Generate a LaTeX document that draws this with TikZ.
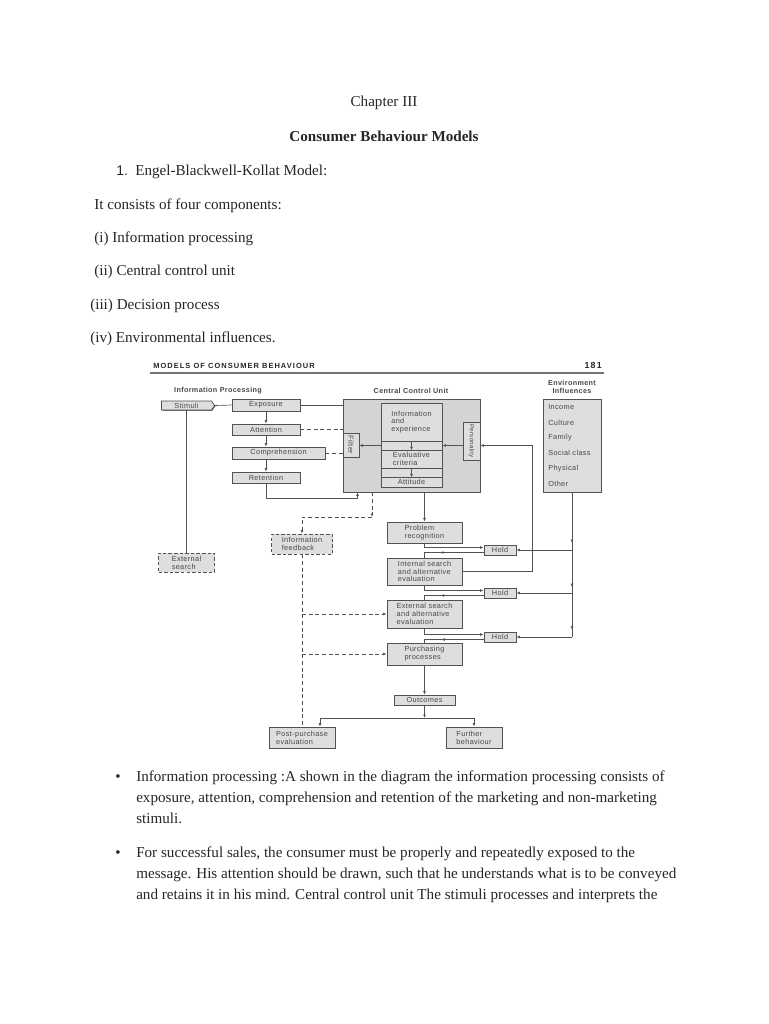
\documentclass[tikz,border=0pt]{standalone}
\usepackage{fontspec}
\setmainfont{Liberation Serif}
\newfontfamily\dsansfam[LetterSpace=5]{Liberation Sans}
\newfontfamily\hsansfam[LetterSpace=14]{Liberation Sans}
\newfontfamily\plainsans{Liberation Sans}
\usetikzlibrary{arrows.meta,shapes.symbols,decorations.markings,shadows}
\definecolor{lc}{gray}{0.32}
\definecolor{bf}{gray}{0.87}
\definecolor{cf}{gray}{0.83}
\definecolor{dt}{gray}{0.28}
\newcommand\diagfont{\dsansfam\fontsize{5.5}{5.9}\selectfont}
\newcommand\diagbold{\dsansfam\bfseries\fontsize{5.4}{5.9}\selectfont}
\newcommand\hdrfont{\hsansfam\bfseries\fontsize{5.6}{6}\selectfont}
\newcommand\bodyfont{\fontsize{11.35}{13}\selectfont}
\begin{document}
\begin{tikzpicture}[x=0.75pt,y=-0.75pt,
  >={Latex[length=2.6pt,width=2.1pt]},
  txt/.style={font=\bodyfont, inner sep=0pt, text=black!85},
  wh/.style 2 args={minimum width=#1*0.75pt, minimum height=#2*0.75pt},
  box/.style={draw=lc, fill=bf, line width=0.5pt, inner sep=0pt, font=\diagfont, text=dt,
    drop shadow={shadow xshift=0.6pt, shadow yshift=-0.6pt, fill=black!60, opacity=1}},
  flat/.style={draw=lc, fill=bf, line width=0.5pt, inner sep=0pt, font=\diagfont, text=dt},
  dbox/.style={draw=lc, fill=bf, line width=0.6pt, dash pattern=on 2.6pt off 1.6pt, inner sep=0pt, font=\diagfont, text=dt},
  ln/.style={draw=lc, line width=0.5pt},
  arr/.style={ln, ->},
  dsh/.style={ln, line width=0.55pt, dash pattern=on 3pt off 2pt},
  midarrow/.style={postaction={decorate}, decoration={markings, mark=at position #1 with {\arrow{>}}}},
  lbl/.style={font=\diagfont, inner sep=0pt, text=dt}
]
\useasboundingbox[fill=white] (0,0) rectangle (768,1024);

% ---------- page text ----------
\node[txt, anchor=base] (ch) at (384,107) {Chapter III};
\node[txt, anchor=base, font=\bodyfont\bfseries] (tt) at (384,141) {Consumer Behaviour Models};
\node[txt, anchor=base west, font=\plainsans\fontsize{10.5}{12}\selectfont] (n1) at (116,175) {1.};
\node[txt, anchor=base west] (l1) at (135,175) {Engel-Blackwell-Kollat Model:};
\node[txt, anchor=base west] (l2) at (94,209) {It consists of four components:};
\node[txt, anchor=base west] (l3) at (94,242) {(i) Information processing};
\node[txt, anchor=base west] (l4) at (94,275) {(ii) Central control unit};
\node[txt, anchor=base west] (l5) at (90,309) {(iii) Decision process};
\node[txt, anchor=base west] (l6) at (90,342) {(iv) Environmental influences.};

\node[txt, anchor=base west] (bu1) at (115,781) {•};
\node[txt, anchor=base west] (p1) at (136,781) {Information processing :A shown in the diagram the information processing consists of};
\node[txt, anchor=base west] (p2) at (136,802) {exposure, attention, comprehension and retention of the marketing and non-marketing};
\node[txt, anchor=base west] (p3) at (136,823) {stimuli.};
\node[txt, anchor=base west] (bu2) at (115,857) {•};
\node[txt, anchor=base west] (p4) at (136,857) {For successful sales, the consumer must be properly and repeatedly exposed to the};
\node[txt, anchor=base west] (p5) at (136,878) {message. His attention should be drawn, such that he understands what is to be conveyed};
\node[txt, anchor=base west] (p6) at (136,899) {and retains it in his mind. Central control unit The stimuli processes and interprets the};

% ---------- diagram header ----------
\node[font=\hdrfont, anchor=base west, inner sep=0pt, text=black!85] (mh) at (153,368.5) {MODELS OF CONSUMER BEHAVIOUR};
\node[font=\hdrfont\fontsize{6.6}{7}\selectfont, anchor=base east, inner sep=0pt, text=black!85] (pg) at (602,368.5) {181};
\draw[draw=black!55, line width=0.9pt] (150,373) -- (604,373);

\node[font=\diagbold, inner sep=0pt, text=dt] (hip) at (218,391) {Information Processing};
\node[font=\diagbold, inner sep=0pt, text=dt] (hcc) at (411,391) {Central Control Unit};
\node[font=\diagbold, inner sep=0pt, align=center, text=dt] (hen) at (572,387) {Environment\\Influences};

% ---------- information processing ----------
\node[box, shape=signal, signal to=east, signal pointer angle=110, wh={53}{9}] (stim) at (186.5,405.5) {Stimuli};
\node[box, wh={68}{12}] (expo) at (266,405) {Exposure};
\node[box, wh={68}{11}] (attn) at (266,429.5) {Attention};
\node[box, wh={93}{12}] (comp) at (278.5,453) {Comprehension};
\node[box, wh={68}{11}] (ret) at (266,477.5) {Retention};
\node[dbox, wh={56}{19}, align=left] (exs) at (186.5,562.5) {External\\search};

% ---------- central control unit ----------
\node[box, fill=cf, wh={137}{93}] (ccu) at (411.5,445.5) {};
\node[flat, wh={61}{38}, align=left] (info) at (411.5,422) {Information\\and\\experience};
\node[flat, wh={61}{9}] (g1) at (411.5,445.5) {};
\node[flat, wh={61}{18}, align=left] (eval) at (411.5,459) {Evaluative\\criteria};
\node[flat, wh={61}{9}] (g2) at (411.5,472.5) {};
\node[flat, wh={61}{10}] (attd) at (411.5,482) {Attitude};
\node[box, wh={16}{24}] (filt) at (351,445) {};
\node[lbl, rotate=-90] (filtt) at (filt) {Filter};
\node[box, wh={17}{38}] (pers) at (471.5,441) {};
\node[lbl, rotate=-90, font=\dsansfam\fontsize{4.6}{5}\selectfont] (perst) at (pers) {Personality};

% ---------- environment ----------
\node[box, wh={58}{93}] (env) at (572,445.5) {};
\node[lbl, anchor=west] (e1) at (548,407) {Income};
\node[lbl, anchor=west] (e2) at (548,423) {Culture};
\node[lbl, anchor=west] (e3) at (548,437.5) {Family};
\node[lbl, anchor=west] (e4) at (548,453) {Social class};
\node[lbl, anchor=west] (e5) at (548,469) {Physical};
\node[lbl, anchor=west] (e6) at (548,484) {Other};

% ---------- decision process ----------
\node[box, wh={75}{21}, align=left] (prob) at (424.5,532.5) {Problem\\recognition};
\node[box, wh={75}{27}, align=left] (intl) at (424.5,571.5) {Internal search\\and alternative\\evaluation};
\node[box, wh={75}{28}, align=left] (extl) at (424.5,614) {External search\\and alternative\\evaluation};
\node[box, wh={75}{22}, align=left] (purch) at (424.5,654) {Purchasing\\processes};
\node[box, wh={61}{10}] (outc) at (424.5,700) {Outcomes};
\node[box, wh={66}{21}, align=left] (post) at (302,737.5) {Post-purchase\\evaluation};
\node[box, wh={56}{21}, align=left] (furth) at (474,737.5) {Further\\behaviour};
\node[box, wh={32}{10}] (h1) at (500,550) {Hold};
\node[box, wh={32}{10}] (h2) at (500,593) {Hold};
\node[box, wh={32}{10}] (h3) at (500,637) {Hold};
\node[dbox, wh={61}{20}, align=left] (fb) at (302,544) {Information\\feedback};

% ---------- connectors: information processing ----------
\draw[ln] (stim.east) -- (expo.west);
\draw[arr] (expo) -- (attn);
\draw[arr] (attn) -- (comp.north -| attn);
\draw[arr] (comp.south -| attn) -- (ret);
\draw[ln] (expo.east) -- (expo.east -| ccu.west);
\draw[dsh] (attn.east) -- (attn.east -| ccu.west);
\draw[dsh] (comp.east) -- (comp.east -| ccu.west);
\coordinate (rc) at (357.5,498);
\draw[arr] (ret.south) |- (rc) -- (rc |- ccu.south);
\draw[ln] (stim.south) -- (exs.north);

% ---------- connectors: central control ----------
\draw[arr] (info.south) -- (g1.south);
\draw[arr] (eval.south) -- (g2.south);
\draw[arr] (pers.west |- g1) -- (g1.east);
\draw[arr] (g1.west) -- (filt.east |- g1);
\coordinate (pc) at (532,571.5);
\draw[arr] (intl.east) -- (pc) |- (pers.east |- g1);

% ---------- connectors: decision ----------
\draw[arr] (ccu.south -| prob) -- (prob.north);
\draw[arr] (prob.south) |- ([yshift=1.9pt]h1.west);
\draw[ln, midarrow=0.68] ([yshift=-1.9pt]h1.west) -| (intl.north);
\draw[arr] (intl.south) |- ([yshift=1.9pt]h2.west);
\draw[ln, midarrow=0.68] ([yshift=-1.9pt]h2.west) -| (extl.north);
\draw[arr] (extl.south) |- ([yshift=1.9pt]h3.west);
\draw[ln, midarrow=0.68] ([yshift=-1.9pt]h3.west) -| (purch.north);
\draw[arr] (purch) -- (outc);
\coordinate (sp) at (424.5,718);
\draw[arr] (outc.south) -- (sp);
\draw[arr] (sp) -| ([xshift=13.5pt]post.north);
\draw[arr] (sp) -| (furth.north);

% environment feed
\coordinate (ev) at (572,637);
\draw[ln, postaction={decorate}, decoration={markings,
   mark=at position 0.35 with {\arrow{>}},
   mark=at position 0.655 with {\arrow{>}},
   mark=at position 0.95 with {\arrow{>}}}] (env.south) -- (ev);
\draw[arr] (env.south |- h1) -- (h1.east);
\draw[arr] (env.south |- h2) -- (h2.east);
\draw[arr] (ev) -- (h3.east);

% ---------- dashed feedback ----------
\coordinate (fc) at (372,517);
\draw[dsh, ->] (ccu.south -| fc) -- (fc);
\draw[dsh, ->] (fc) -| (fb.north);
\draw[dsh] (fb.south) -- (post.north);
\draw[dsh, ->] (fb.south |- extl) -- (extl.west);
\draw[dsh, ->] (fb.south |- purch) -- (purch.west);
\end{tikzpicture}
\end{document}
